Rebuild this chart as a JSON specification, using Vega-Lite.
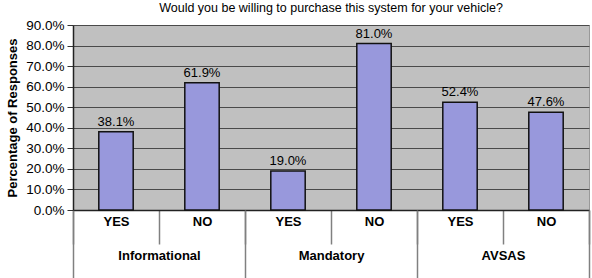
{
  "$schema": "https://vega.github.io/schema/vega-lite/v6.json",
  "width": 516,
  "height": 185,
  "autosize": "none",
  "padding": {"left": 73, "top": 25, "right": 3, "bottom": 68},
  "background": "white",
  "title": {"text": "Would you be willing to purchase this system for your vehicle?", "fontSize": 12.5, "font": "Liberation Sans", "fontWeight": "normal", "color": "black", "anchor": "middle", "offset": 4},
  "data": {"values": [
    {"group": "Informational", "answer": "YES", "key": "Informational YES", "value": 0.381},
    {"group": "Informational", "answer": "NO", "key": "Informational NO", "value": 0.619},
    {"group": "Mandatory", "answer": "YES", "key": "Mandatory YES", "value": 0.190},
    {"group": "Mandatory", "answer": "NO", "key": "Mandatory NO", "value": 0.810},
    {"group": "AVSAS", "answer": "YES", "key": "AVSAS YES", "value": 0.524},
    {"group": "AVSAS", "answer": "NO", "key": "AVSAS NO", "value": 0.476}
  ]},
  "layer": [
    {
      "encoding": {
        "x": {"field": "key", "type": "nominal", "sort": null,
          "scale": {"type": "band", "paddingInner": 0, "paddingOuter": 0},
          "axis": {"orient": "bottom", "title": null, "labelAngle": 0, "labelExpr": "split(datum.label, ' ')[1]",
            "labelFont": "Liberation Sans", "labelFontSize": 13, "labelFontWeight": "bold", "labelColor": "black",
            "tickBand": "extent", "tickSize": 34, "tickColor": "#808080", "tickWidth": 1.5,
            "labelPadding": -29, "domain": true, "domainColor": "#222", "domainWidth": 1.5, "grid": false}},
        "y": {"field": "value", "type": "quantitative",
          "scale": {"domain": [0, 0.9], "nice": false},
          "axis": {"title": "Percentage of Responses", "values": [0, 0.1, 0.2, 0.3, 0.4, 0.5, 0.6, 0.7, 0.8, 0.9], "format": ".1%",
            "titleFont": "Liberation Sans", "titleFontSize": 13, "titleFontWeight": "bold", "titleColor": "black", "titlePadding": 6,
            "labelFont": "Liberation Sans", "labelFontSize": 13.5, "labelColor": "black", "labelPadding": 3,
            "tickSize": 6, "tickColor": "#333", "domainColor": "#222", "domainWidth": 1.5,
            "grid": true, "gridColor": "#4a4a4a", "gridWidth": 1}}
      },
      "layer": [
        {"mark": {"type": "bar", "width": {"band": 0.4}, "fill": "#9898dc", "stroke": "#111", "strokeWidth": 1.5}},
        {"mark": {"type": "text", "baseline": "bottom", "dy": -3, "font": "Liberation Sans", "fontSize": 13, "color": "black"},
          "encoding": {"text": {"field": "value", "type": "quantitative", "format": ".1%"}}}
      ]
    },
    {
      "mark": {"type": "rule", "strokeOpacity": 0},
      "encoding": {
        "x": {"field": "group", "type": "nominal", "sort": null,
          "scale": {"type": "band", "paddingInner": 0, "paddingOuter": 0},
          "axis": {"orient": "bottom", "title": null, "labelAngle": 0, "offset": 0,
            "labelFont": "Liberation Sans", "labelFontSize": 13, "labelFontWeight": "bold", "labelColor": "black",
            "tickBand": "extent", "tickSize": 72, "tickColor": "#808080", "tickWidth": 1.5,
            "labelPadding": -33, "domain": false, "grid": false}}
      }
    }
  ],
  "resolve": {"scale": {"x": "independent"}, "axis": {"x": "independent"}},
  "config": {"view": {"fill": "#c0c0c0", "stroke": "#999"}}
}
